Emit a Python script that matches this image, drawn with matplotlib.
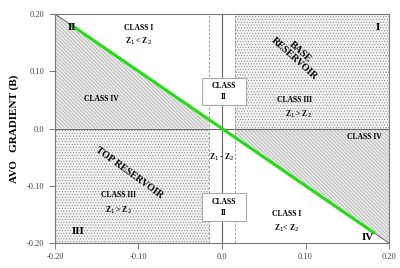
import matplotlib
matplotlib.use("Agg")
import matplotlib.pyplot as plt
import numpy as np

# axis ticks
xticks = [-0.20, -0.10, 0.0, 0.10, 0.20]
xticklabels = ["-0.20", "-0.10", "0.0", "0.10", "0.20"]
yticks = [-0.20, -0.10, 0.0, 0.10, 0.20]
yticklabels = ["-0.20", "-0.10", "0.0", "0.10", "0.20"]

# background line (fluid line) and class II band half-width
trend_x = [-0.183, 0.183]
trend_y = [0.183, -0.183]
band = 0.016

# class labels: (x, y, text)
class_labels = [
    (-0.100, 0.175, "CLASS I"),
    (-0.100, 0.152, "Z$_1$ < Z$_2$"),
    (-0.145, 0.052, "CLASS IV"),
    (0.087, 0.050, "CLASS III"),
    (0.092, 0.025, "Z$_1$ > Z$_2$"),
    (0.170, -0.015, "CLASS IV"),
    (-0.124, -0.116, "CLASS III"),
    (-0.124, -0.142, "Z$_1$ > Z$_2$"),
    (0.0, -0.051, "Z$_1$ - Z$_2$"),
    (0.077, -0.149, "CLASS I"),
    (0.077, -0.174, "Z$_1$< Z$_2$"),
]
quadrant_labels = [(-0.180, 0.176, "II"), (0.187, 0.176, "I"),
                   (-0.172, -0.180, "III"), (0.175, -0.190, "IV")]
box_y = [(0.041, 0.088), (-0.162, -0.113)]

serif = ["Liberation Serif", "DejaVu Serif"]
plt.rcParams["hatch.linewidth"] = 0.45

fig = plt.figure(figsize=(4, 2.68), dpi=100)
ax = fig.add_axes([0.1375, 0.093, 0.835, 0.855])
ax.set_xlim(-0.2, 0.2)
ax.set_ylim(-0.2, 0.2)

hatch_kw = dict(facecolor="#e8e8e8", edgecolor="#adadad", hatch="\\\\\\\\\\\\\\\\\\", linewidth=0)
dot_kw = dict(facecolor="#f2f2f2", edgecolor="#8e8e8e", hatch="......", linewidth=0)

# hatched triangles (class IV)
ax.fill([-0.2, -band, -band, -0.2], [0.2, band, 0.0, 0.0], **hatch_kw)
ax.fill([band, 0.2, 0.2, band], [0.0, 0.0, -0.2, -band], **hatch_kw)
# dotted quadrants (class III)
ax.fill([band, 0.2, 0.2, band], [0.2, 0.2, 0.0, 0.0], **dot_kw)
ax.fill([-0.2, -band, -band, -0.2], [0.0, 0.0, -0.2, -0.2], **dot_kw)

# thin diagonal, axes lines and band edges
ax.plot([-0.2, 0.2], [0.2, -0.2], color="#555555", lw=0.6)
ax.axhline(0, color="#666666", lw=0.8)
ax.axvline(0, color="#666666", lw=0.8)
for xb in (-band, band):
    ax.axvline(xb, color="#888888", lw=0.6, ls=(0, (3, 2)))
ax.plot(trend_x, trend_y, color="#22dd11", lw=2.2, solid_capstyle="butt")

# class II boxes
for y0, y1 in box_y:
    ax.add_patch(plt.Rectangle((-0.024, y0), 0.053, y1 - y0, facecolor="white",
                               edgecolor="#aaaaaa", lw=0.8, zorder=5))
    ax.text(0.0025, (y0 + y1) / 2, "CLASS\nII", ha="center", va="center",
            fontsize=5.5, fontweight="bold", family=serif, zorder=6, linespacing=1.5)

for x, y, t in class_labels:
    ax.text(x, y, t, ha="center", va="center", fontsize=5.5, fontweight="bold", family=serif)
for x, y, t in quadrant_labels:
    ax.text(x, y, t, ha="center", va="center", fontsize=8, fontweight="bold", family=serif)

ax.text(0.090, 0.128, "BASE\nRESERVOIR", ha="center", va="center", rotation=-42,
        fontsize=7.2, fontweight="bold", family=serif, linespacing=1.0)
ax.text(-0.111, -0.078, "TOP RESERVOIR", ha="center", va="center", rotation=-36,
        fontsize=7.2, fontweight="bold", family=serif)

ax.set_xticks(xticks)
ax.set_xticklabels(xticklabels)
ax.set_yticks(yticks)
ax.set_yticklabels(yticklabels)
ax.tick_params(labelsize=6, length=4, width=0.6, color="#666666", labelcolor="#444444")
for lab in ax.get_xticklabels() + ax.get_yticklabels():
    lab.set_family(serif)
for s in ax.spines.values():
    s.set_color("#777777")
    s.set_linewidth(0.8)

ax.set_ylabel("AVO   GRADIENT (B)", fontsize=8, fontweight="bold", family=serif, labelpad=6)

fig.savefig("out.png", dpi=100)
